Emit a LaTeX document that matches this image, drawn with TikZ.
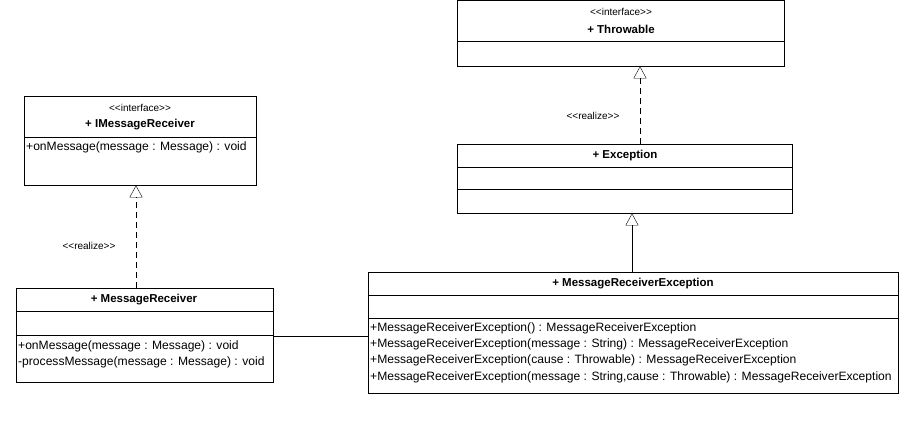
\documentclass[tikz,border=0pt]{standalone}
\usepackage{fontspec}
\setmainfont{Liberation Sans}
\usetikzlibrary{arrows.meta}
\begin{document}
\begin{tikzpicture}[x=1pt, y=-1pt,
  umlbox/.style={draw, rectangle, anchor=north west, inner sep=0pt, fill=white},
  title/.style={font=\fontsize{11.5}{13}\selectfont\bfseries, anchor=center},
  stereo/.style={font=\fontsize{10}{11}\selectfont, anchor=center},
  op/.style={font=\fontsize{12.1}{13}\selectfont, anchor=west, inner sep=1pt},
  realize/.style={dashed, dash pattern=on 6pt off 4pt, -{Triangle[open, length=12pt, width=13pt]}},
  inherit/.style={-{Triangle[open, length=12pt, width=13pt]}}]
  \useasboundingbox (0,0) rectangle (910,431);
  % Throwable
  \node[umlbox, minimum width=327pt, minimum height=66pt] (thr) at (457,0) {};
  \node[stereo] (thrS) at (621,12) {{<}{<}interface{>}{>}};
  \node[title] (thrT) at (621,29) {+ Throwable};
  \draw (457,41) -- (784,41);
  % Exception
  \node[umlbox, minimum width=335pt, minimum height=69pt] (exc) at (457,144) {};
  \node[title] (excT) at (625,156) {+ Exception};
  \draw (457,167) -- (792,167);
  \draw (457,189) -- (792,189);
  % IMessageReceiver
  \node[umlbox, minimum width=232pt, minimum height=89pt] (imr) at (24,96) {};
  \node[stereo] (imrS) at (140,108) {{<}{<}interface{>}{>}};
  \node[title] (imrT) at (140,125) {+ IMessageReceiver};
  \draw (24,137) -- (256,137);
  \node[op] (imrO) at (25,147) {+onMessage(message : Message) : void};
  % MessageReceiver
  \node[umlbox, minimum width=257pt, minimum height=94pt] (mr) at (16,288) {};
  \node[title] (mrT) at (144,300) {+ MessageReceiver};
  \draw (16,311) -- (273,311);
  \draw (16,335) -- (273,335);
  \node[op] (mrO1) at (17,346) {+onMessage(message : Message) : void};
  \node[op] (mrO2) at (17,362) {-processMessage(message : Message) : void};
  % MessageReceiverException
  \node[umlbox, minimum width=530pt, minimum height=121pt] (mre) at (368,272) {};
  \node[title] (mreT) at (633,284) {+ MessageReceiverException};
  \draw (368,295) -- (898,295);
  \draw (368,318) -- (898,318);
  \node[op] (mreO1) at (369,328) {+MessageReceiverException() : MessageReceiverException};
  \node[op] (mreO2) at (369,344) {+MessageReceiverException(message : String) : MessageReceiverException};
  \node[op] (mreO3) at (369,360) {+MessageReceiverException(cause : Throwable) : MessageReceiverException};
  \node[op] (mreO4) at (369,377) {+MessageReceiverException(message : String,cause : Throwable) : MessageReceiverException};
  % connectors
  \draw[realize] (exc.north -| 640,0) -- (thr.south -| 640,0);
  \node[stereo] (lbl1) at (593,116) {{<}{<}realize{>}{>}};
  \draw[realize] (mr.north -| 136,0) -- (imr.south -| 136,0);
  \node[stereo] (lbl2) at (89,246) {{<}{<}realize{>}{>}};
  \draw[inherit] (mre.north -| 632,0) -- (exc.south -| 632,0);
  \draw (mr.east |- 0,336) -- (mre.west |- 0,336);
\end{tikzpicture}
\end{document}
